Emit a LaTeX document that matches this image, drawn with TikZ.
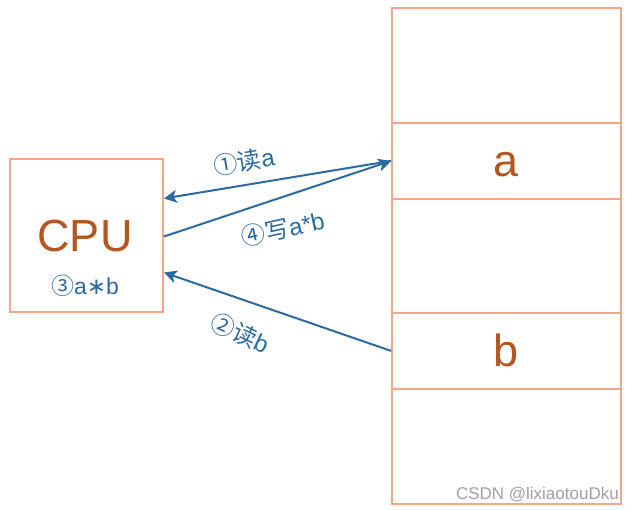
\documentclass[tikz,border=0pt]{standalone}
\usepackage{fontspec}
\setmainfont{Liberation Sans}
\newfontfamily\cjk{Noto Sans CJK SC}
\newfontfamily\djv{DejaVu Sans}
\usetikzlibrary{arrows.meta,calc}
\definecolor{boxc}{HTML}{F5A688}
\definecolor{txtc}{HTML}{B4561E}
\definecolor{arrc}{HTML}{2B6BA3}
\definecolor{wmc}{HTML}{A0A0A0}
\begin{document}
\begin{tikzpicture}[x=1pt,y=-1pt,
  cell/.style={draw=boxc,line width=1.8pt,minimum width=229pt,inner sep=0pt,anchor=north},
  cpubox/.style={draw=boxc,line width=1.8pt,minimum width=153pt,minimum height=153pt,inner sep=0pt},
  big/.style={text=txtc,font=\fontsize{45}{50}\selectfont,inner sep=0pt,anchor=base},
  arr/.style={draw=arrc,line width=2pt,-{Stealth[length=13pt,width=13pt,inset=3.5pt]}},
  lbl/.style={text=arrc,font=\fontsize{24}{26}\selectfont,inner sep=0pt}]
\useasboundingbox (0,0) rectangle (630,510);
% memory cells
\node[cell,minimum height=115pt] (m1) at (506.5,7) {};
\node[cell,minimum height=76pt] (ma) at (506.5,122) {};
\node[cell,minimum height=114pt] (m3) at (506.5,198) {};
\node[cell,minimum height=76pt] (mb) at (506.5,312) {};
\node[cell,minimum height=115pt] (m5) at (506.5,388) {};
\node[big] (ta) at (506.5,177) {a};
\node[big] (tb) at (506.5,367) {b};
% CPU
\node[cpubox] (cpu) at (86.5,235.5) {};
\node[big] (tcpu) at (85,252) {CPU};
\node[text=arrc,font=\fontsize{23}{25}\selectfont,inner sep=0pt,anchor=base] (tmul) at (85,295) {{\cjk ③}a{\djv ∗}b};
% connectors
\draw[arr] (ma.west) -- ($(cpu.east)+(0,-37)$);
\draw[arr] ($(cpu.east)+(0,1)$) -- (ma.west);
\draw[arr] (mb.west) -- ($(cpu.east)+(0,37)$);
% labels
\node[lbl,rotate=9.5] (l1) at (244,161) {{\cjk ①读}a};
\node[lbl,rotate=12.5] (l4) at (283,229) {{\cjk ④写}a*b};
\node[lbl,rotate=-25] (l2) at (240,333) {{\cjk ②读}b};
% watermark
\node[text=wmc,font=\fontsize{17}{19}\selectfont,inner sep=0pt,anchor=base east] (wm) at (619,500) {CSDN @lixiaotouDku};
\end{tikzpicture}
\end{document}
